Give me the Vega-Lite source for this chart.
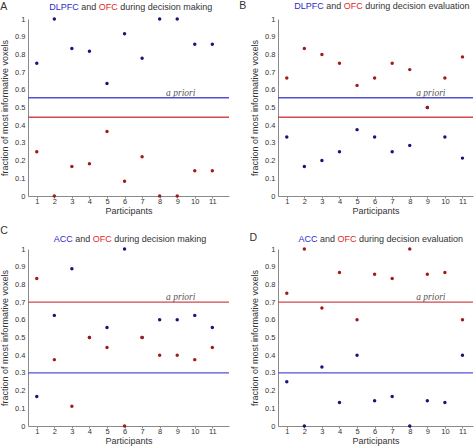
{
  "$schema": "https://vega.github.io/schema/vega-lite/v6.json",
  "padding": 0,
  "background": "white",
  "datasets": {
    "pts": [
      {"p":"A","participant":1,"region":"DLPFC","v":0.75},{"p":"A","participant":2,"region":"DLPFC","v":1},{"p":"A","participant":3,"region":"DLPFC","v":0.833},{"p":"A","participant":4,"region":"DLPFC","v":0.818},{"p":"A","participant":5,"region":"DLPFC","v":0.636},{"p":"A","participant":6,"region":"DLPFC","v":0.917},{"p":"A","participant":7,"region":"DLPFC","v":0.778},{"p":"A","participant":8,"region":"DLPFC","v":1},{"p":"A","participant":9,"region":"DLPFC","v":1},{"p":"A","participant":10,"region":"DLPFC","v":0.857},{"p":"A","participant":11,"region":"DLPFC","v":0.857},
      {"p":"A","participant":1,"region":"OFC","v":0.25},{"p":"A","participant":2,"region":"OFC","v":0},{"p":"A","participant":3,"region":"OFC","v":0.167},{"p":"A","participant":4,"region":"OFC","v":0.182},{"p":"A","participant":5,"region":"OFC","v":0.364},{"p":"A","participant":6,"region":"OFC","v":0.083},{"p":"A","participant":7,"region":"OFC","v":0.222},{"p":"A","participant":8,"region":"OFC","v":0},{"p":"A","participant":9,"region":"OFC","v":0},{"p":"A","participant":10,"region":"OFC","v":0.143},{"p":"A","participant":11,"region":"OFC","v":0.143},
      {"p":"B","participant":1,"region":"DLPFC","v":0.333},{"p":"B","participant":2,"region":"DLPFC","v":0.167},{"p":"B","participant":3,"region":"DLPFC","v":0.2},{"p":"B","participant":4,"region":"DLPFC","v":0.25},{"p":"B","participant":5,"region":"DLPFC","v":0.375},{"p":"B","participant":6,"region":"DLPFC","v":0.333},{"p":"B","participant":7,"region":"DLPFC","v":0.25},{"p":"B","participant":8,"region":"DLPFC","v":0.286},{"p":"B","participant":9,"region":"DLPFC","v":0.5},{"p":"B","participant":10,"region":"DLPFC","v":0.333},{"p":"B","participant":11,"region":"DLPFC","v":0.214},
      {"p":"B","participant":1,"region":"OFC","v":0.667},{"p":"B","participant":2,"region":"OFC","v":0.833},{"p":"B","participant":3,"region":"OFC","v":0.8},{"p":"B","participant":4,"region":"OFC","v":0.75},{"p":"B","participant":5,"region":"OFC","v":0.625},{"p":"B","participant":6,"region":"OFC","v":0.667},{"p":"B","participant":7,"region":"OFC","v":0.75},{"p":"B","participant":8,"region":"OFC","v":0.714},{"p":"B","participant":9,"region":"OFC","v":0.5},{"p":"B","participant":10,"region":"OFC","v":0.667},{"p":"B","participant":11,"region":"OFC","v":0.786},
      {"p":"C","participant":1,"region":"ACC","v":0.167},{"p":"C","participant":2,"region":"ACC","v":0.625},{"p":"C","participant":3,"region":"ACC","v":0.889},{"p":"C","participant":4,"region":"ACC","v":0.5},{"p":"C","participant":5,"region":"ACC","v":0.556},{"p":"C","participant":6,"region":"ACC","v":1},{"p":"C","participant":7,"region":"ACC","v":0.5},{"p":"C","participant":8,"region":"ACC","v":0.6},{"p":"C","participant":9,"region":"ACC","v":0.6},{"p":"C","participant":10,"region":"ACC","v":0.625},{"p":"C","participant":11,"region":"ACC","v":0.556},
      {"p":"C","participant":1,"region":"OFC","v":0.833},{"p":"C","participant":2,"region":"OFC","v":0.375},{"p":"C","participant":3,"region":"OFC","v":0.111},{"p":"C","participant":4,"region":"OFC","v":0.5},{"p":"C","participant":5,"region":"OFC","v":0.444},{"p":"C","participant":6,"region":"OFC","v":0},{"p":"C","participant":7,"region":"OFC","v":0.5},{"p":"C","participant":8,"region":"OFC","v":0.4},{"p":"C","participant":9,"region":"OFC","v":0.4},{"p":"C","participant":10,"region":"OFC","v":0.375},{"p":"C","participant":11,"region":"OFC","v":0.444},
      {"p":"D","participant":1,"region":"ACC","v":0.25},{"p":"D","participant":2,"region":"ACC","v":0},{"p":"D","participant":3,"region":"ACC","v":0.333},{"p":"D","participant":4,"region":"ACC","v":0.133},{"p":"D","participant":5,"region":"ACC","v":0.4},{"p":"D","participant":6,"region":"ACC","v":0.143},{"p":"D","participant":7,"region":"ACC","v":0.167},{"p":"D","participant":8,"region":"ACC","v":0},{"p":"D","participant":9,"region":"ACC","v":0.143},{"p":"D","participant":10,"region":"ACC","v":0.133},{"p":"D","participant":11,"region":"ACC","v":0.4},
      {"p":"D","participant":1,"region":"OFC","v":0.75},{"p":"D","participant":2,"region":"OFC","v":1},{"p":"D","participant":3,"region":"OFC","v":0.667},{"p":"D","participant":4,"region":"OFC","v":0.867},{"p":"D","participant":5,"region":"OFC","v":0.6},{"p":"D","participant":6,"region":"OFC","v":0.857},{"p":"D","participant":7,"region":"OFC","v":0.833},{"p":"D","participant":8,"region":"OFC","v":1},{"p":"D","participant":9,"region":"OFC","v":0.857},{"p":"D","participant":10,"region":"OFC","v":0.867},{"p":"D","participant":11,"region":"OFC","v":0.6}
    ],
    "prior": [
      {"p":"A","region":"DLPFC","v":0.555},{"p":"A","region":"OFC","v":0.445},
      {"p":"B","region":"DLPFC","v":0.555},{"p":"B","region":"OFC","v":0.445},
      {"p":"C","region":"ACC","v":0.3},{"p":"C","region":"OFC","v":0.7},
      {"p":"D","region":"ACC","v":0.3},{"p":"D","region":"OFC","v":0.7}
    ],
    "titles": [
      {"p":"A","k":1,"role":"DLPFC","text":"DLPFC"},{"p":"A","k":2,"role":"rest","text":"and"},{"p":"A","k":3,"role":"OFC","text":"OFC"},{"p":"A","k":4,"role":"rest","text":"during decision making"},
      {"p":"B","k":1,"role":"DLPFC","text":"DLPFC"},{"p":"B","k":2,"role":"rest","text":"and"},{"p":"B","k":3,"role":"OFC","text":"OFC"},{"p":"B","k":4,"role":"rest","text":"during decision evaluation"},
      {"p":"C","k":1,"role":"ACC","text":"ACC"},{"p":"C","k":2,"role":"rest","text":"and"},{"p":"C","k":3,"role":"OFC","text":"OFC"},{"p":"C","k":4,"role":"rest","text":"during decision making"},
      {"p":"D","k":1,"role":"ACC","text":"ACC"},{"p":"D","k":2,"role":"rest","text":"and"},{"p":"D","k":3,"role":"OFC","text":"OFC"},{"p":"D","k":4,"role":"rest","text":"during decision evaluation"}
    ]
  },
  "columns": 2,
  "bounds": "flush",
  "spacing": {"row": 53, "column": 49},
  "concat": [
    {
      "width": 201, "height": 177,
      "encoding": {
        "x": {"type":"quantitative","scale":{"domain":[0.5,11.95],"nice":false,"zero":false},"axis":{"values":[1,2,3,4,5,6,7,8,9,10,11],"tickCount":11,"labelOverlap":false,"title":"Participants"}},
        "y": {"type":"quantitative","scale":{"domain":[0,1],"nice":false},"axis":{"values":[0,0.1,0.2,0.3,0.4,0.5,0.6,0.7,0.8,0.9,1],"labelExpr":"format(datum.value, '~g')","labelOverlap":false,"title":"fraction of most informative voxels"}}
      },
      "layer": [
        {"data":{"name":"prior"},"transform":[{"filter":"datum.p==='A'"}],"mark":{"type":"rule","strokeWidth":1.3},
         "encoding":{"y":{"field":"v","type":"quantitative"},
                     "stroke":{"field":"region","type":"nominal","scale":{"domain":["DLPFC","ACC","OFC"],"range":["#5050d8","#5050d8","#d04848"]},"legend":null}}},
        {"data":{"name":"pts"},"transform":[{"filter":"datum.p==='A'"}],"mark":{"type":"point","filled":true,"size":12,"opacity":1},
         "encoding":{"x":{"field":"participant","type":"quantitative"},"y":{"field":"v","type":"quantitative"},
                     "color":{"field":"region","type":"nominal","scale":{"domain":["DLPFC","ACC","OFC"],"range":["#15157a","#15157a","#a01c1c"]},"legend":null}}},
        {"data":{"name":"prior"},"transform":[{"filter":"datum.p==='A' && datum.v>0.5"}],"mark":{"type":"text","font":"Liberation Serif","fontStyle":"italic","fontSize":9.5,"color":"#555555","baseline":"alphabetic","dy":-2},
         "encoding":{"x":{"datum":9.2,"type":"quantitative"},"y":{"field":"v","type":"quantitative"},"text":{"value":"a priori"}}},
        {"data":{"name":"titles"},"transform":[{"filter":"datum.p==='A' && datum.k===1"}],"mark":{"type":"text","font":"Liberation Sans","fontSize":9,"align":"left","baseline":"middle","dx":0},
         "encoding":{"x":{"datum":1.71,"type":"quantitative"},"y":{"datum":1.068,"type":"quantitative"},"text":{"field":"text"},"fill":{"field":"role","type":"nominal","scale":{"domain":["rest","OFC","DLPFC","ACC"],"range":["#333333","#e02828","#2b2bc8","#2b2bc8"]},"legend":null}}},
        {"data":{"name":"titles"},"transform":[{"filter":"datum.p==='A' && datum.k===2"}],"mark":{"type":"text","font":"Liberation Sans","fontSize":9,"align":"left","baseline":"middle","dx":32},
         "encoding":{"x":{"datum":1.71,"type":"quantitative"},"y":{"datum":1.068,"type":"quantitative"},"text":{"field":"text"},"fill":{"field":"role","type":"nominal","legend":null}}},
        {"data":{"name":"titles"},"transform":[{"filter":"datum.p==='A' && datum.k===3"}],"mark":{"type":"text","font":"Liberation Sans","fontSize":9,"align":"left","baseline":"middle","dx":49.5},
         "encoding":{"x":{"datum":1.71,"type":"quantitative"},"y":{"datum":1.068,"type":"quantitative"},"text":{"field":"text"},"fill":{"field":"role","type":"nominal","legend":null}}},
        {"data":{"name":"titles"},"transform":[{"filter":"datum.p==='A' && datum.k===4"}],"mark":{"type":"text","font":"Liberation Sans","fontSize":9,"align":"left","baseline":"middle","dx":71},
         "encoding":{"x":{"datum":1.71,"type":"quantitative"},"y":{"datum":1.068,"type":"quantitative"},"text":{"field":"text"},"fill":{"field":"role","type":"nominal","legend":null}}},
        {"data":{"name":"titles"},"transform":[{"filter":"datum.p==='A' && datum.k===1"}],"mark":{"type":"text","font":"Liberation Sans","fontSize":10.5,"align":"left","baseline":"middle","color":"#333333"},
         "encoding":{"x":{"datum":-1.08,"type":"quantitative"},"y":{"datum":1.068,"type":"quantitative"},"text":{"value":"A"}}}
      ]
    },
    {
      "width": 195, "height": 177,
      "encoding": {
        "x": {"type":"quantitative","scale":{"domain":[0.5,11.6],"nice":false,"zero":false},"axis":{"values":[1,2,3,4,5,6,7,8,9,10,11],"tickCount":11,"labelOverlap":false,"title":"Participants"}},
        "y": {"type":"quantitative","scale":{"domain":[0,1],"nice":false},"axis":{"values":[0,0.1,0.2,0.3,0.4,0.5,0.6,0.7,0.8,0.9,1],"labelExpr":"format(datum.value, '~g')","labelOverlap":false,"title":"fraction of most informative voxels"}}
      },
      "layer": [
        {"data":{"name":"prior"},"transform":[{"filter":"datum.p==='B'"}],"mark":{"type":"rule","strokeWidth":1.3},
         "encoding":{"y":{"field":"v","type":"quantitative"},
                     "stroke":{"field":"region","type":"nominal","scale":{"domain":["DLPFC","ACC","OFC"],"range":["#5050d8","#5050d8","#d04848"]},"legend":null}}},
        {"data":{"name":"pts"},"transform":[{"filter":"datum.p==='B'"}],"mark":{"type":"point","filled":true,"size":12,"opacity":1},
         "encoding":{"x":{"field":"participant","type":"quantitative"},"y":{"field":"v","type":"quantitative"},
                     "color":{"field":"region","type":"nominal","scale":{"domain":["DLPFC","ACC","OFC"],"range":["#15157a","#15157a","#a01c1c"]},"legend":null}}},
        {"data":{"name":"prior"},"transform":[{"filter":"datum.p==='B' && datum.v>0.5"}],"mark":{"type":"text","font":"Liberation Serif","fontStyle":"italic","fontSize":9.5,"color":"#555555","baseline":"alphabetic","dy":-2},
         "encoding":{"x":{"datum":9.2,"type":"quantitative"},"y":{"field":"v","type":"quantitative"},"text":{"value":"a priori"}}},
        {"data":{"name":"titles"},"transform":[{"filter":"datum.p==='B' && datum.k===1"}],"mark":{"type":"text","font":"Liberation Sans","fontSize":9,"align":"left","baseline":"middle","dx":0},
         "encoding":{"x":{"datum":1.43,"type":"quantitative"},"y":{"datum":1.074,"type":"quantitative"},"text":{"field":"text"},"fill":{"field":"role","type":"nominal","scale":{"domain":["rest","OFC","DLPFC","ACC"],"range":["#333333","#e02828","#2b2bc8","#2b2bc8"]},"legend":null}}},
        {"data":{"name":"titles"},"transform":[{"filter":"datum.p==='B' && datum.k===2"}],"mark":{"type":"text","font":"Liberation Sans","fontSize":9,"align":"left","baseline":"middle","dx":32},
         "encoding":{"x":{"datum":1.43,"type":"quantitative"},"y":{"datum":1.074,"type":"quantitative"},"text":{"field":"text"},"fill":{"field":"role","type":"nominal","legend":null}}},
        {"data":{"name":"titles"},"transform":[{"filter":"datum.p==='B' && datum.k===3"}],"mark":{"type":"text","font":"Liberation Sans","fontSize":9,"align":"left","baseline":"middle","dx":49.5},
         "encoding":{"x":{"datum":1.43,"type":"quantitative"},"y":{"datum":1.074,"type":"quantitative"},"text":{"field":"text"},"fill":{"field":"role","type":"nominal","legend":null}}},
        {"data":{"name":"titles"},"transform":[{"filter":"datum.p==='B' && datum.k===4"}],"mark":{"type":"text","font":"Liberation Sans","fontSize":9,"align":"left","baseline":"middle","dx":71},
         "encoding":{"x":{"datum":1.43,"type":"quantitative"},"y":{"datum":1.074,"type":"quantitative"},"text":{"field":"text"},"fill":{"field":"role","type":"nominal","legend":null}}},
        {"data":{"name":"titles"},"transform":[{"filter":"datum.p==='B' && datum.k===1"}],"mark":{"type":"text","font":"Liberation Sans","fontSize":10.5,"align":"left","baseline":"middle","color":"#333333"},
         "encoding":{"x":{"datum":-1.71,"type":"quantitative"},"y":{"datum":1.074,"type":"quantitative"},"text":{"value":"B"}}}
      ]
    },
    {
      "width": 201, "height": 177,
      "encoding": {
        "x": {"type":"quantitative","scale":{"domain":[0.5,11.95],"nice":false,"zero":false},"axis":{"values":[1,2,3,4,5,6,7,8,9,10,11],"tickCount":11,"labelOverlap":false,"title":"Participants"}},
        "y": {"type":"quantitative","scale":{"domain":[0,1],"nice":false},"axis":{"values":[0,0.1,0.2,0.3,0.4,0.5,0.6,0.7,0.8,0.9,1],"labelExpr":"format(datum.value, '~g')","labelOverlap":false,"title":"fraction of most informative voxels"}}
      },
      "layer": [
        {"data":{"name":"prior"},"transform":[{"filter":"datum.p==='C'"}],"mark":{"type":"rule","strokeWidth":1.3},
         "encoding":{"y":{"field":"v","type":"quantitative"},
                     "stroke":{"field":"region","type":"nominal","scale":{"domain":["DLPFC","ACC","OFC"],"range":["#5050d8","#5050d8","#d04848"]},"legend":null}}},
        {"data":{"name":"pts"},"transform":[{"filter":"datum.p==='C'"}],"mark":{"type":"point","filled":true,"size":12,"opacity":1},
         "encoding":{"x":{"field":"participant","type":"quantitative"},"y":{"field":"v","type":"quantitative"},
                     "color":{"field":"region","type":"nominal","scale":{"domain":["DLPFC","ACC","OFC"],"range":["#15157a","#15157a","#a01c1c"]},"legend":null}}},
        {"data":{"name":"prior"},"transform":[{"filter":"datum.p==='C' && datum.v>0.5"}],"mark":{"type":"text","font":"Liberation Serif","fontStyle":"italic","fontSize":9.5,"color":"#555555","baseline":"alphabetic","dy":-2},
         "encoding":{"x":{"datum":9.2,"type":"quantitative"},"y":{"field":"v","type":"quantitative"},"text":{"value":"a priori"}}},
        {"data":{"name":"titles"},"transform":[{"filter":"datum.p==='C' && datum.k===1"}],"mark":{"type":"text","font":"Liberation Sans","fontSize":9,"align":"left","baseline":"middle","dx":0},
         "encoding":{"x":{"datum":1.97,"type":"quantitative"},"y":{"datum":1.057,"type":"quantitative"},"text":{"field":"text"},"fill":{"field":"role","type":"nominal","scale":{"domain":["rest","OFC","DLPFC","ACC"],"range":["#333333","#e02828","#2b2bc8","#2b2bc8"]},"legend":null}}},
        {"data":{"name":"titles"},"transform":[{"filter":"datum.p==='C' && datum.k===2"}],"mark":{"type":"text","font":"Liberation Sans","fontSize":9,"align":"left","baseline":"middle","dx":21.5},
         "encoding":{"x":{"datum":1.97,"type":"quantitative"},"y":{"datum":1.057,"type":"quantitative"},"text":{"field":"text"},"fill":{"field":"role","type":"nominal","legend":null}}},
        {"data":{"name":"titles"},"transform":[{"filter":"datum.p==='C' && datum.k===3"}],"mark":{"type":"text","font":"Liberation Sans","fontSize":9,"align":"left","baseline":"middle","dx":39},
         "encoding":{"x":{"datum":1.97,"type":"quantitative"},"y":{"datum":1.057,"type":"quantitative"},"text":{"field":"text"},"fill":{"field":"role","type":"nominal","legend":null}}},
        {"data":{"name":"titles"},"transform":[{"filter":"datum.p==='C' && datum.k===4"}],"mark":{"type":"text","font":"Liberation Sans","fontSize":9,"align":"left","baseline":"middle","dx":60.5},
         "encoding":{"x":{"datum":1.97,"type":"quantitative"},"y":{"datum":1.057,"type":"quantitative"},"text":{"field":"text"},"fill":{"field":"role","type":"nominal","legend":null}}},
        {"data":{"name":"titles"},"transform":[{"filter":"datum.p==='C' && datum.k===1"}],"mark":{"type":"text","font":"Liberation Sans","fontSize":10.5,"align":"left","baseline":"middle","color":"#333333"},
         "encoding":{"x":{"datum":-1.08,"type":"quantitative"},"y":{"datum":1.104,"type":"quantitative"},"text":{"value":"C"}}}
      ]
    },
    {
      "width": 195, "height": 177,
      "encoding": {
        "x": {"type":"quantitative","scale":{"domain":[0.5,11.6],"nice":false,"zero":false},"axis":{"values":[1,2,3,4,5,6,7,8,9,10,11],"tickCount":11,"labelOverlap":false,"title":"Participants"}},
        "y": {"type":"quantitative","scale":{"domain":[0,1],"nice":false},"axis":{"values":[0,0.1,0.2,0.3,0.4,0.5,0.6,0.7,0.8,0.9,1],"labelExpr":"format(datum.value, '~g')","labelOverlap":false,"title":"fraction of most informative voxels"}}
      },
      "layer": [
        {"data":{"name":"prior"},"transform":[{"filter":"datum.p==='D'"}],"mark":{"type":"rule","strokeWidth":1.3},
         "encoding":{"y":{"field":"v","type":"quantitative"},
                     "stroke":{"field":"region","type":"nominal","scale":{"domain":["DLPFC","ACC","OFC"],"range":["#5050d8","#5050d8","#d04848"]},"legend":null}}},
        {"data":{"name":"pts"},"transform":[{"filter":"datum.p==='D'"}],"mark":{"type":"point","filled":true,"size":12,"opacity":1},
         "encoding":{"x":{"field":"participant","type":"quantitative"},"y":{"field":"v","type":"quantitative"},
                     "color":{"field":"region","type":"nominal","scale":{"domain":["DLPFC","ACC","OFC"],"range":["#15157a","#15157a","#a01c1c"]},"legend":null}}},
        {"data":{"name":"prior"},"transform":[{"filter":"datum.p==='D' && datum.v>0.5"}],"mark":{"type":"text","font":"Liberation Serif","fontStyle":"italic","fontSize":9.5,"color":"#555555","baseline":"alphabetic","dy":-2},
         "encoding":{"x":{"datum":9.2,"type":"quantitative"},"y":{"field":"v","type":"quantitative"},"text":{"value":"a priori"}}},
        {"data":{"name":"titles"},"transform":[{"filter":"datum.p==='D' && datum.k===1"}],"mark":{"type":"text","font":"Liberation Sans","fontSize":9,"align":"left","baseline":"middle","dx":0},
         "encoding":{"x":{"datum":1.66,"type":"quantitative"},"y":{"datum":1.057,"type":"quantitative"},"text":{"field":"text"},"fill":{"field":"role","type":"nominal","scale":{"domain":["rest","OFC","DLPFC","ACC"],"range":["#333333","#e02828","#2b2bc8","#2b2bc8"]},"legend":null}}},
        {"data":{"name":"titles"},"transform":[{"filter":"datum.p==='D' && datum.k===2"}],"mark":{"type":"text","font":"Liberation Sans","fontSize":9,"align":"left","baseline":"middle","dx":21.5},
         "encoding":{"x":{"datum":1.66,"type":"quantitative"},"y":{"datum":1.057,"type":"quantitative"},"text":{"field":"text"},"fill":{"field":"role","type":"nominal","legend":null}}},
        {"data":{"name":"titles"},"transform":[{"filter":"datum.p==='D' && datum.k===3"}],"mark":{"type":"text","font":"Liberation Sans","fontSize":9,"align":"left","baseline":"middle","dx":39},
         "encoding":{"x":{"datum":1.66,"type":"quantitative"},"y":{"datum":1.057,"type":"quantitative"},"text":{"field":"text"},"fill":{"field":"role","type":"nominal","legend":null}}},
        {"data":{"name":"titles"},"transform":[{"filter":"datum.p==='D' && datum.k===4"}],"mark":{"type":"text","font":"Liberation Sans","fontSize":9,"align":"left","baseline":"middle","dx":60.5},
         "encoding":{"x":{"datum":1.66,"type":"quantitative"},"y":{"datum":1.057,"type":"quantitative"},"text":{"field":"text"},"fill":{"field":"role","type":"nominal","legend":null}}},
        {"data":{"name":"titles"},"transform":[{"filter":"datum.p==='D' && datum.k===1"}],"mark":{"type":"text","font":"Liberation Sans","fontSize":10.5,"align":"left","baseline":"middle","color":"#333333"},
         "encoding":{"x":{"datum":-1.12,"type":"quantitative"},"y":{"datum":1.063,"type":"quantitative"},"text":{"value":"D"}}}
      ]
    }
  ],
  "config": {
    "view": {"stroke": null},
    "axis": {
      "grid": false,
      "domainColor": "#8a8a8a",
      "domainWidth": 1,
      "tickColor": "#8a8a8a",
      "tickSize": 2,
      "labelFont": "Liberation Sans",
      "labelFontSize": 7.5,
      "labelColor": "#333333",
      "labelOverlap": false,
      "labelFlush": false,
      "titleFont": "Liberation Sans",
      "titleFontSize": 9,
      "titleFontWeight": "normal",
      "titleColor": "#333333"
    },
    "axisY": {"ticks": false, "labelPadding": 3, "titlePadding": 5},
    "axisX": {"labelPadding": -1, "titlePadding": 2}
  }
}
